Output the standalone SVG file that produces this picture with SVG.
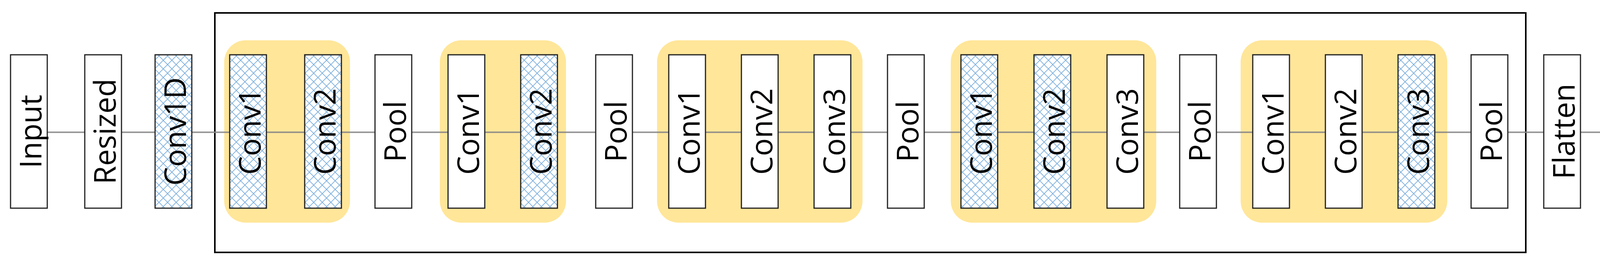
<svg xmlns="http://www.w3.org/2000/svg" width="4249" height="667" viewBox="0 0 4249 667">
<defs>
<pattern id="hatch" width="22" height="22" patternUnits="userSpaceOnUse">
<rect width="22" height="22" fill="#fff"/>
<path d="M0,0 L22,22 M22,0 L0,22" stroke="#5b9bd5" stroke-width="1.8" opacity="0.8"/>
</pattern>
<style>
.b{fill:#fff;stroke:#222;stroke-width:3}
.h{fill:url(#hatch);stroke:#222;stroke-width:3}
.g{fill:#ffe699}
text{font-family:"Open Sans","Noto Sans",sans-serif;font-size:76px;fill:#000;text-anchor:middle;dominant-baseline:central}
</style>
</defs>
<rect x="550" y="33" width="3356" height="612" fill="#fff" stroke="#000" stroke-width="4"/>
<g id="groups">
<rect class="g" x="574" y="103" width="322" height="466" rx="55"/>
<rect class="g" x="1126" y="103" width="323" height="466" rx="55"/>
<rect class="g" x="1682" y="103" width="526" height="466" rx="55"/>
<rect class="g" x="2434" y="103" width="526" height="466" rx="55"/>
<rect class="g" x="3176" y="103" width="529" height="466" rx="55"/>
</g>
<g id="connectors"><line x1="122" y1="338" x2="4140" y2="338" stroke="#888" stroke-width="4" opacity="0.85"/></g>
<g id="n1"><rect class="b" x="27" y="140" width="94" height="392"/><text transform="translate(76,336) rotate(-90)">Input</text></g>
<g id="n2"><rect class="b" x="217" y="140" width="94" height="392"/><text transform="translate(266,336) rotate(-90)">Resized</text></g>
<g id="n3"><rect class="h" x="397" y="140" width="94" height="392"/><text transform="translate(446,336) rotate(-90)">Conv1D</text></g>
<g id="n4"><rect class="h" x="588" y="140" width="94" height="392"/><text transform="translate(637,336) rotate(-90)">Conv1</text></g>
<g id="n5"><rect class="h" x="780" y="140" width="94" height="392"/><text transform="translate(829,336) rotate(-90)">Conv2</text></g>
<g id="n6"><rect class="b" x="960" y="140" width="94" height="392"/><text transform="translate(1009,336) rotate(-90)">Pool</text></g>
<g id="n7"><rect class="b" x="1147" y="140" width="94" height="392"/><text transform="translate(1196,336) rotate(-90)">Conv1</text></g>
<g id="n8"><rect class="h" x="1333" y="140" width="94" height="392"/><text transform="translate(1382,336) rotate(-90)">Conv2</text></g>
<g id="n9"><rect class="b" x="1525" y="140" width="94" height="392"/><text transform="translate(1574,336) rotate(-90)">Pool</text></g>
<g id="n10"><rect class="b" x="1712" y="140" width="94" height="392"/><text transform="translate(1761,336) rotate(-90)">Conv1</text></g>
<g id="n11"><rect class="b" x="1898" y="140" width="94" height="392"/><text transform="translate(1947,336) rotate(-90)">Conv2</text></g>
<g id="n12"><rect class="b" x="2084" y="140" width="94" height="392"/><text transform="translate(2133,336) rotate(-90)">Conv3</text></g>
<g id="n13"><rect class="b" x="2272" y="140" width="94" height="392"/><text transform="translate(2321,336) rotate(-90)">Pool</text></g>
<g id="n14"><rect class="h" x="2460" y="140" width="94" height="392"/><text transform="translate(2509,336) rotate(-90)">Conv1</text></g>
<g id="n15"><rect class="h" x="2647" y="140" width="94" height="392"/><text transform="translate(2696,336) rotate(-90)">Conv2</text></g>
<g id="n16"><rect class="b" x="2834" y="140" width="94" height="392"/><text transform="translate(2883,336) rotate(-90)">Conv3</text></g>
<g id="n17"><rect class="b" x="3020" y="140" width="94" height="392"/><text transform="translate(3069,336) rotate(-90)">Pool</text></g>
<g id="n18"><rect class="b" x="3207" y="140" width="94" height="392"/><text transform="translate(3256,336) rotate(-90)">Conv1</text></g>
<g id="n19"><rect class="b" x="3393" y="140" width="94" height="392"/><text transform="translate(3442,336) rotate(-90)">Conv2</text></g>
<g id="n20"><rect class="h" x="3579" y="140" width="94" height="392"/><text transform="translate(3628,336) rotate(-90)">Conv3</text></g>
<g id="n21"><rect class="b" x="3766" y="140" width="94" height="392"/><text transform="translate(3815,336) rotate(-90)">Pool</text></g>
<g id="n22"><rect class="b" x="3952" y="140" width="94" height="392"/><text transform="translate(4001,336) rotate(-90)">Flatten</text></g>
<g id="n23"><rect class="h" x="4140" y="140" width="94" height="392"/><text transform="translate(4189,336) rotate(-90)">Dense</text></g>
</svg>
